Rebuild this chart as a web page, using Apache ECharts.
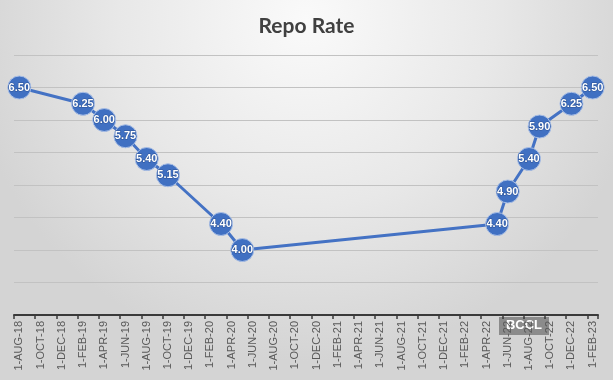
<!DOCTYPE html>
<html>
<head>
<meta charset="utf-8">
<script src="https://cdn.jsdelivr.net/npm/echarts@6/dist/echarts.min.js"></script>
<style>html,body{margin:0;padding:0;}#c{width:613px;height:380px;}</style>
</head>
<body>
<div id="c"></div>
<script>
const months = [
  '1-AUG-18','1-SEP-18','1-OCT-18','1-NOV-18','1-DEC-18',
  '1-JAN-19','1-FEB-19','1-MAR-19','1-APR-19','1-MAY-19','1-JUN-19','1-JUL-19','1-AUG-19','1-SEP-19','1-OCT-19','1-NOV-19','1-DEC-19',
  '1-JAN-20','1-FEB-20','1-MAR-20','1-APR-20','1-MAY-20','1-JUN-20','1-JUL-20','1-AUG-20','1-SEP-20','1-OCT-20','1-NOV-20','1-DEC-20',
  '1-JAN-21','1-FEB-21','1-MAR-21','1-APR-21','1-MAY-21','1-JUN-21','1-JUL-21','1-AUG-21','1-SEP-21','1-OCT-21','1-NOV-21','1-DEC-21',
  '1-JAN-22','1-FEB-22','1-MAR-22','1-APR-22','1-MAY-22','1-JUN-22','1-JUL-22','1-AUG-22','1-SEP-22','1-OCT-22','1-NOV-22','1-DEC-22',
  '1-JAN-23','1-FEB-23'
];
const rateDates = ['1-AUG-18','1-FEB-19','1-APR-19','1-JUN-19','1-AUG-19','1-OCT-19','1-MAR-20','1-MAY-20','1-MAY-22','1-JUN-22','1-AUG-22','1-SEP-22','1-DEC-22','1-FEB-23'];
const rateValues = [6.50, 6.25, 6.00, 5.75, 5.40, 5.15, 4.40, 4.00, 4.40, 4.90, 5.40, 5.90, 6.25, 6.50];

const chart = echarts.init(document.getElementById('c'));
chart.setOption({
  animation: false,
  backgroundColor: {
    type: 'radial', x: 0.5, y: 0.05, r: 0.9,
    colorStops: [{offset: 0, color: '#fafafa'}, {offset: 0.55, color: '#e8e8e8'}, {offset: 1, color: '#d4d4d4'}]
  },
  title: {
    text: 'Repo Rate', left: 'center', top: 11,
    textStyle: {fontFamily: 'Lato', fontWeight: 'bold', fontSize: 21, color: '#404040'}
  },
  grid: {left: 14, right: 15, top: 55, bottom: 65, containLabel: false},
  xAxis: {
    type: 'category',
    data: months,
    boundaryGap: true,
    axisLine: {lineStyle: {color: '#3a3a3a', width: 2}},
    axisTick: {show: true, interval: 1, length: 4, lineStyle: {color: '#3a3a3a', width: 1.5}},
    axisLabel: {interval: 1, rotate: 90, fontSize: 11, color: '#595959', fontFamily: 'Liberation Sans', margin: 6},
    splitLine: {show: false}
  },
  yAxis: {
    type: 'value', min: 3, max: 7, interval: 0.5,
    axisLabel: {show: false}, axisLine: {show: false}, axisTick: {show: false},
    splitLine: {lineStyle: {color: '#c2c2c2', width: 1}}
  },
  series: [{
    type: 'line',
    data: rateDates.map((d, i) => [d, rateValues[i]]),
    connectNulls: true,
    showAllSymbol: true,
    symbol: 'circle',
    symbolSize: 23,
    lineStyle: {color: '#4472C4', width: 3},
    itemStyle: {color: '#4070C2', borderColor: '#a9bfe6', borderWidth: 1},
    label: {
      show: true, position: 'inside',
      formatter: p => p.value[1].toFixed(2),
      color: '#ffffff', fontSize: 11, fontFamily: 'Liberation Sans', fontWeight: 'bold',
      textBorderColor: '#2f5597', textBorderWidth: 1
    },
    labelLayout: {hideOverlap: false},
    z: 3
  }],
  graphic: [{
    type: 'group', left: 499, top: 317,
    children: [
      {type: 'rect', shape: {x: 0, y: 0, width: 50, height: 18}, style: {fill: 'rgba(90,90,90,0.6)'}},
      {type: 'text', x: 25, y: 8, style: {text: 'BCCL', fill: '#ffffff', font: 'bold 13px Liberation Sans', align: 'center', verticalAlign: 'middle'}}
    ]
  }]
});
</script>
</body>
</html>
